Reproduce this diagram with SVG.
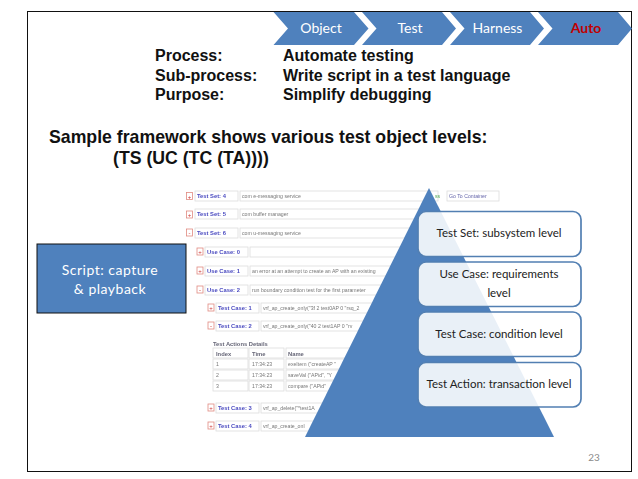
<svg xmlns="http://www.w3.org/2000/svg" width="638" height="479" viewBox="0 0 638 479">
<defs><filter id="soft" x="-2%" y="-2%" width="104%" height="104%"><feGaussianBlur stdDeviation="0.4"/></filter></defs>
<style>
text{font-family:"Liberation Sans",Arial,sans-serif}
.h{font-size:16px;font-weight:bold;fill:#111}
.h2{font-size:17.7px}
.c{font-family:Lato,"Open Sans",sans-serif;font-size:14px;fill:#fff;text-anchor:middle}
.chev{fill:#4f81bd}
.lv{fill:#fff;fill-opacity:.88;stroke:#527fb2;stroke-width:1.7}
.lt{font-family:Lato,"Open Sans",sans-serif;font-size:11.5px;fill:#222;text-anchor:middle}
.sb{font-family:Lato,"Open Sans",sans-serif;font-size:14px;letter-spacing:.5px;fill:#fff;text-anchor:middle}
.pb{fill:#fff;stroke:#e08a80;stroke-width:.8}
.pt{font-size:6px;fill:#c33;text-anchor:middle}
.lb{fill:#fff;stroke:#ddd;stroke-width:.8}
.l{font-size:5.8px;font-weight:bold;fill:#4a4ac0}
.v{font-size:5.2px;fill:#777}
.g{font-size:5.8px;font-weight:bold;fill:#667}
</style>
<rect width="638" height="479" fill="#fff"/>
<rect id="frame" x="27.500" y="11.500" width="604" height="460" fill="none" stroke="#111" stroke-width="1"/>
<g id="screenshot" filter="url(#soft)">
<g id="ts4"><rect class="pb" x="186.500" y="192.500" width="6" height="7"/><text class="pt" x="189.500" y="198.500">+</text><rect class="lb" x="195" y="191" width="43" height="10"/><text class="l" x="197" y="198">Test Set: 4</text><rect class="lb" x="240" y="191" width="198" height="10"/><text class="v" x="242" y="198">com e-messaging service</text></g>
<g id="ts5"><rect class="pb" x="186.500" y="211" width="6" height="7"/><text class="pt" x="189.500" y="217">+</text><rect class="lb" x="195" y="209" width="43" height="10"/><text class="l" x="197" y="216">Test Set: 5</text><rect class="lb" x="240" y="209" width="198" height="10"/><text class="v" x="242" y="216">com buffer manager</text></g>
<g id="ts6"><rect class="pb" x="186.500" y="229" width="6" height="7"/><text class="pt" x="189.500" y="235">-</text><rect class="lb" x="195" y="228" width="43" height="10"/><text class="l" x="197" y="235">Test Set: 6</text><rect class="lb" x="240" y="228" width="198" height="10"/><text class="v" x="242" y="235">com u-messaging service</text></g>
<g id="uc0"><rect class="pb" x="197" y="248" width="6" height="7"/><text class="pt" x="200" y="254">+</text><rect class="lb" x="205" y="247" width="43" height="10"/><text class="l" x="207" y="254">Use Case: 0</text><rect class="lb" x="250" y="247" width="188" height="10"/></g>
<g id="uc1"><rect class="pb" x="197" y="267" width="6" height="7"/><text class="pt" x="200" y="273">+</text><rect class="lb" x="205" y="266" width="43" height="10"/><text class="l" x="207" y="273">Use Case: 1</text><rect class="lb" x="250" y="266" width="188" height="10"/><text class="v" x="252" y="273">an error at an attempt to create an AP with an existing</text></g>
<g id="uc2"><rect class="pb" x="197" y="286" width="6" height="7"/><text class="pt" x="200" y="292">-</text><rect class="lb" x="205" y="285" width="43" height="10"/><text class="l" x="207" y="292">Use Case: 2</text><rect class="lb" x="250" y="285" width="188" height="10"/><text class="v" x="252" y="292">run boundary condition test for the first parameter</text></g>
<g id="tc1"><rect class="pb" x="208" y="304" width="6" height="7"/><text class="pt" x="211" y="310">+</text><rect class="lb" x="216" y="303" width="43" height="10"/><text class="l" x="218" y="310">Test Case: 1</text><rect class="lb" x="261" y="303" width="177" height="10"/><text class="v" x="263" y="310">vrf_ap_create_only("3f 2 test0AP 0 "rsq_2</text></g>
<g id="tc2"><rect class="pb" x="208" y="322" width="6" height="7"/><text class="pt" x="211" y="328">-</text><rect class="lb" x="216" y="321" width="43" height="10"/><text class="l" x="218" y="328">Test Case: 2</text><rect class="lb" x="261" y="321" width="177" height="10"/><text class="v" x="263" y="328">vrf_ap_create_only("40 2 test1AP 0 "rv</text></g>
<g id="actions">
<text class="g" x="213" y="346">Test Actions Details</text>
<rect class="lb" x="213" y="348" width="35" height="10"/><rect class="lb" x="249" y="348" width="35" height="10"/><rect class="lb" x="286" y="348" width="120" height="10"/>
<text class="g" x="216" y="355.500">Index</text><text class="g" x="252" y="355.500">Time</text><text class="g" x="288" y="355.500">Name</text>
<rect class="lb" x="213" y="359" width="35" height="10"/><rect class="lb" x="249" y="359" width="35" height="10"/><rect class="lb" x="286" y="359" width="120" height="10"/>
<text class="v" x="216" y="366">1</text><text class="v" x="252" y="366">17:34:23</text><text class="v" x="288" y="366">exeItem ("createAP "</text>
<rect class="lb" x="213" y="370" width="35" height="10"/><rect class="lb" x="249" y="370" width="35" height="10"/><rect class="lb" x="286" y="370" width="120" height="10"/>
<text class="v" x="216" y="377">2</text><text class="v" x="252" y="377">17:34:23</text><text class="v" x="288" y="377">saveVal ("APid", "Y</text>
<rect class="lb" x="213" y="381" width="35" height="10"/><rect class="lb" x="249" y="381" width="35" height="10"/><rect class="lb" x="286" y="381" width="120" height="10"/>
<text class="v" x="216" y="388">3</text><text class="v" x="252" y="388">17:34:23</text><text class="v" x="288" y="388">compare ("APid"</text>
</g>
<g id="tc3"><rect class="pb" x="208" y="404" width="6" height="7"/><text class="pt" x="211" y="410">+</text><rect class="lb" x="216" y="403" width="43" height="10"/><text class="l" x="218" y="410">Test Case: 3</text><rect class="lb" x="261" y="403" width="120" height="10"/><text class="v" x="263" y="410">vrf_ap_delete("*test1A</text></g>
<g id="tc4"><rect class="pb" x="208" y="422" width="6" height="7"/><text class="pt" x="211" y="428">+</text><rect class="lb" x="216" y="421" width="43" height="10"/><text class="l" x="218" y="428">Test Case: 4</text><rect class="lb" x="261" y="421" width="110" height="10"/><text class="v" x="263" y="428">vrf_ap_create_onl</text></g>
<g id="side"><text class="v" x="435" y="198" style="fill:#5a5">ss</text><rect class="lb" x="447" y="191" width="52" height="10"/><text class="v" x="449" y="198" style="fill:#66a">Go To Container</text></g>
</g>
<polygon id="pyramid" points="429,188 554,437 305,437" fill="#4f81bd"/>
<g id="chevrons">
<g id="chev-object"><polygon class="chev" points="273.500,12 354,12 368.500,28.500 354,45 273.500,45 288,28.500"/><text class="c" x="321" y="33">Object</text></g>
<g id="chev-test"><polygon class="chev" points="362,12 442,12 456,28.500 442,45 362,45 376.500,28.500"/><text class="c" x="410" y="33">Test</text></g>
<g id="chev-harness"><polygon class="chev" points="450,12 530,12 544,28.500 530,45 450,45 464.500,28.500"/><text class="c" x="497.500" y="33">Harness</text></g>
<g id="chev-auto"><polygon class="chev" points="538,12 618,12 632,28.500 618,45 538,45 552.500,28.500"/><text class="c" x="586" y="33" style="fill:#c00000;font-weight:bold">Auto</text></g>
</g>
<g id="info">
<text class="h" x="155" y="61">Process:</text><text class="h" x="283" y="61">Automate testing</text>
<text class="h" x="155" y="80.500">Sub-process:</text><text class="h" x="283" y="80.500">Write script in a test language</text>
<text class="h" x="155" y="100">Purpose:</text><text class="h" x="283" y="100">Simplify debugging</text>
<text class="h h2" x="49" y="143">Sample framework shows various test object levels:</text>
<text class="h h2" x="113" y="164">(TS (UC (TC (TA))))</text>
</g>
<g id="script-box"><rect x="37" y="244" width="149" height="69" fill="#4f81bd" stroke="#111" stroke-width="1"/>
<text class="sb" x="110" y="275">Script:  capture</text>
<text class="sb" x="110" y="294">&amp; playback</text></g>
<g id="lv1"><rect class="lv" x="418" y="211.500" width="163" height="45" rx="8"/><text class="lt" x="499" y="237">Test Set: subsystem level</text></g>
<g id="lv2"><rect class="lv" x="418" y="262" width="163" height="44.500" rx="8"/><text class="lt" x="499" y="278">Use Case: requirements</text><text class="lt" x="499" y="297">level</text></g>
<g id="lv3"><rect class="lv" x="418" y="312" width="163" height="44.500" rx="8"/><text class="lt" x="499" y="338">Test Case: condition level</text></g>
<g id="lv4"><rect class="lv" x="418" y="362.500" width="163" height="44.500" rx="8"/><text class="lt" x="499" y="388">Test Action: transaction level</text></g>
<text id="page" x="594" y="461" text-anchor="middle" style="font-family:Lato,'Open Sans',sans-serif;font-size:10px;fill:#8a8a8a">23</text>
</svg>
